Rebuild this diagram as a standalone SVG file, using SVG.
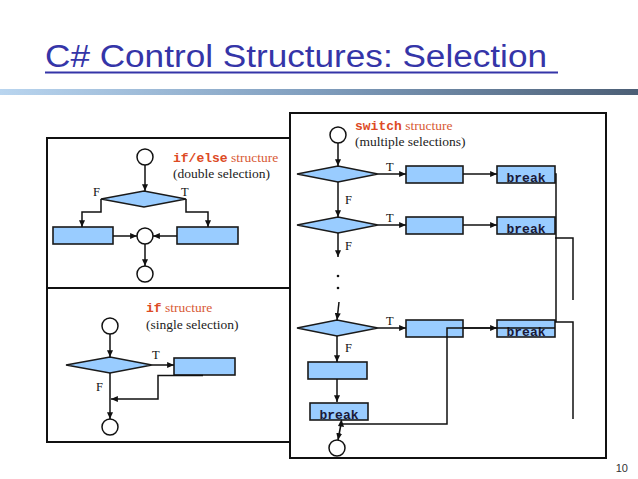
<svg xmlns="http://www.w3.org/2000/svg" width="638" height="479" viewBox="0 0 638 479">
<defs>
<linearGradient id="bar" x1="0" y1="0" x2="1" y2="0">
<stop offset="0" stop-color="#b9d5ef"/>
<stop offset="0.5" stop-color="#7f9dbd"/>
<stop offset="1" stop-color="#4c5f76"/>
</linearGradient>
<marker id="ah" viewBox="0 0 8 7" refX="8" refY="3.5" markerWidth="7" markerHeight="6" markerUnits="userSpaceOnUse" orient="auto">
<path d="M0,0 L8,3.5 L0,7 z" fill="#111"/>
</marker>
<style>
.panel{fill:none;stroke:#111;stroke-width:2}
.box{fill:#99ccff;stroke:#1a1a1a;stroke-width:1.6}
.dia{fill:#99ccff;stroke:#1a1a1a;stroke-width:1.4}
.circ{fill:#fff;stroke:#111;stroke-width:1.5}
.ln{fill:none;stroke:#111;stroke-width:1.5}
.arr{fill:none;stroke:#111;stroke-width:1.5;marker-end:url(#ah)}
.lbl{font-family:"Liberation Serif",serif;font-size:12.5px;fill:#111}
.kw{font-family:"Liberation Mono",monospace;font-weight:bold;font-size:13px;fill:#dd4a24}
.st{font-family:"Liberation Serif",serif;font-size:13.5px;fill:#d85a35}
.desc{font-family:"Liberation Serif",serif;font-size:13.5px;fill:#222}
.brk{font-family:"Liberation Mono",monospace;font-weight:bold;font-size:13px;fill:#1a1a38;text-anchor:middle}
</style>
</defs>
<rect width="638" height="479" fill="#fff"/>
<g id="title">
<text x="45" y="67" font-family="Liberation Sans,Arial,sans-serif" font-size="31" fill="#3535a8" textLength="502" lengthAdjust="spacingAndGlyphs">C# Control Structures: Selection</text>
<line x1="45" y1="72.5" x2="558" y2="72.5" stroke="#3535a8" stroke-width="2"/>
<rect x="0" y="89" width="638" height="6" fill="url(#bar)"/>
</g>
<g id="panels">
<rect class="panel" x="47" y="138" width="243" height="150"/>
<rect class="panel" x="47" y="288" width="243" height="154"/>
<rect class="panel" x="290" y="113" width="316" height="345"/>
</g>
<g id="ifelse">
<g id="ie-start"><circle class="circ" cx="145" cy="157" r="8"/></g>
<g id="ie-dec"><polygon class="dia" points="101,199 144,191 186,199 144,207"/></g>
<g id="ie-false"><rect class="box" x="53" y="227" width="60" height="17"/></g>
<g id="ie-true"><rect class="box" x="177" y="227" width="61" height="17"/></g>
<g id="ie-merge"><circle class="circ" cx="145" cy="236" r="8"/></g>
<g id="ie-end"><circle class="circ" cx="145" cy="274" r="8"/></g>
<text x="173" y="162"><tspan class="kw">if/else</tspan><tspan class="st"> structure</tspan></text>
<text class="desc" x="173" y="178">(double selection)</text>
<text class="lbl" x="93" y="196">F</text>
<text class="lbl" x="181" y="196">T</text>
</g>
<g id="if">
<g id="if-start"><circle class="circ" cx="110" cy="326" r="8"/></g>
<g id="if-dec"><polygon class="dia" points="66,365 110,357 152,365 110,373"/></g>
<g id="if-true"><rect class="box" x="174" y="358" width="61" height="17"/></g>
<g id="if-end"><circle class="circ" cx="110" cy="427" r="8"/></g>
<text x="146" y="312"><tspan class="kw">if</tspan><tspan class="st"> structure</tspan></text>
<text class="desc" x="146" y="329">(single selection)</text>
<text class="lbl" x="152" y="359">T</text>
<text class="lbl" x="96" y="391">F</text>
</g>
<g id="switch">
<g id="sw-start"><circle class="circ" cx="338" cy="135" r="8"/></g>
<g id="sw-d1"><polygon class="dia" points="297,174 338,166 378,174 338,182"/></g>
<g id="sw-d2"><polygon class="dia" points="297,225 338,217 378,225 338,233"/></g>
<g id="sw-d3"><polygon class="dia" points="297,328 337,320 378,328 337,336"/></g>
<g id="sw-a1"><rect class="box" x="406" y="166" width="57" height="17"/></g>
<g id="sw-a2"><rect class="box" x="406" y="217" width="57" height="17"/></g>
<g id="sw-a3"><rect class="box" x="406" y="320" width="57" height="17"/></g>
<g id="sw-b1"><rect class="box" x="497" y="166" width="58" height="17"/><text class="brk" x="526" y="182">break</text></g>
<g id="sw-b2"><rect class="box" x="497" y="217" width="58" height="17"/><text class="brk" x="526" y="233">break</text></g>
<g id="sw-b3"><rect class="box" x="497" y="320" width="58" height="17"/><text class="brk" x="526" y="336">break</text></g>
<g id="sw-default"><rect class="box" x="308" y="362" width="59" height="17"/></g>
<g id="sw-b4"><rect class="box" x="310" y="403" width="58" height="17"/><text class="brk" x="339" y="419">break</text></g>
<g id="sw-end"><circle class="circ" cx="337" cy="448" r="8"/></g>
<text x="355" y="130"><tspan class="kw">switch</tspan><tspan class="st"> structure</tspan></text>
<text class="desc" x="355" y="146">(multiple selections)</text>
<text class="lbl" x="386" y="171">T</text>
<text class="lbl" x="386" y="222">T</text>
<text class="lbl" x="386" y="325">T</text>
<text class="lbl" x="345" y="204">F</text>
<text class="lbl" x="345" y="250">F</text>
<text class="lbl" x="345" y="352">F</text>
<circle cx="338" cy="276" r="1.3" fill="#111"/>
<circle cx="338" cy="288" r="1.3" fill="#111"/>
</g>
<g id="connectors">
<path class="arr" d="M145,165 V191"/>
<path class="arr" d="M101,199 V212 H82 V227"/>
<path class="arr" d="M186,199 V212 H208 V227"/>
<path class="arr" d="M113,236 H137"/>
<path class="arr" d="M177,236 H153"/>
<path class="arr" d="M145,244 V266"/>
<path class="arr" d="M110,334 V357"/>
<path class="arr" d="M152,365 H174"/>
<path class="arr" d="M203,375.5 H158 V399 H111"/>
<path class="arr" d="M110,373 V419"/>
<path class="arr" d="M338,143 V166"/>
<path class="arr" d="M378,174 H406"/>
<path class="arr" d="M463,174 H497"/>
<path class="arr" d="M338,182 V217"/>
<path class="arr" d="M378,225 H406"/>
<path class="arr" d="M463,225 H497"/>
<path class="arr" d="M338,233 V257"/>
<path class="arr" d="M339,302 L337,320"/>
<path class="arr" d="M378,328 H406"/>
<path class="arr" d="M463,328 H497"/>
<path class="arr" d="M337,336 V362"/>
<path class="arr" d="M337,379 V402"/>
<path class="ln" d="M555,328 H447 V424 H341"/>
<path class="arr" d="M341,424 L338,440"/>
<polygon points="338,426 341.5,419 344,427" fill="#111"/>
<path class="ln" d="M555,174 H556 V322"/>
<path class="ln" d="M555,238 H573 V300"/>
<path class="ln" d="M555,322 H573 V419"/>
</g>
<text x="628" y="472" font-family="Liberation Sans,Arial,sans-serif" font-size="11" fill="#333" text-anchor="end">10</text>
</svg>
